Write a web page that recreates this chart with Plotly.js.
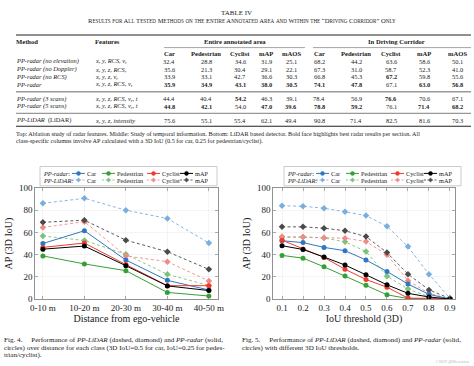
<!DOCTYPE html>
<html><head><meta charset="utf-8">
<script src="https://cdn.plot.ly/plotly-3.0.1.min.js"></script>
<style>html,body{margin:0;padding:0;background:#fff;overflow:hidden}</style>
</head><body><div id="chart" style="width:474px;height:366px"></div>
<script>
// ---------------- Table data ----------------
const tableTitle = 'TABLE IV';
const tableSubtitle = 'Results for All Tested Methods on the Entire Annotated Area and Within the “Driving Corridor” Only';
const groupHeaders = ['Entire annotated area', 'In Driving Corridor'];
const metricHeaders = ['Car', 'Pedestrian', 'Cyclist', 'mAP', 'mAOS'];
const methodNames = [
  '<i>PP-radar (no elevation)</i>',
  '<i>PP-radar (no Doppler)</i>',
  '<i>PP-radar (no RCS)</i>',
  '<i>PP-radar</i>',
  '<i>PP-radar (3 scans)</i>',
  '<i>PP-radar (5 scans)</i>',
  '<i>PP-LiDAR</i>&nbsp; (LiDAR)'
];
const featureSets = [
  '<i>x, y, RCS, v<sub>r</sub></i>',
  '<i>x, y, z, RCS,</i>',
  '<i>x, y, z, v<sub>r</sub></i>',
  '<i>x, y, z, RCS, v<sub>r</sub></i>',
  '<i>x, y, z, RCS, v<sub>r</sub>, t</i>',
  '<i>x, y, z, RCS, v<sub>r</sub>, t</i>',
  '<i>x, y, z, intensity</i>'
];
const entireArea = [
  [32.4, 28.8, 34.6, 31.9, 25.1],
  [35.6, 21.3, 30.4, 29.1, 22.1],
  [33.9, 33.1, 42.7, 36.6, 30.3],
  [35.9, 34.9, 43.1, 38.0, 30.5],
  [44.4, 40.4, 54.2, 46.3, 39.1],
  [44.8, 42.1, 54.0, 47.0, 39.6],
  [75.6, 55.1, 55.4, 62.1, 49.4]
];
const drivingCorridor = [
  [68.2, 44.2, 63.6, 58.6, 50.1],
  [67.3, 31.0, 58.7, 52.3, 41.0],
  [66.8, 45.3, 67.2, 59.8, 55.6],
  [74.1, 47.8, 67.1, 63.0, 56.8],
  [78.4, 56.9, 76.6, 70.6, 67.1],
  [78.8, 59.2, 76.1, 71.4, 68.2],
  [90.8, 71.4, 82.5, 81.6, 70.3]
];
const entireBest = [
  [0,0,0,0,0],[0,0,0,0,0],[0,0,0,0,0],[1,1,1,1,1],
  [0,0,1,0,0],[1,1,0,1,1],[0,0,0,0,0]
];
const corridorBest = [
  [0,0,0,0,0],[0,0,0,0,0],[0,0,1,0,0],[1,1,0,1,1],
  [0,0,1,0,0],[1,1,0,1,1],[0,0,0,0,0]
];
const tableNote = [
  'Top: Ablation study of radar features. Middle: Study of temporal information. Bottom: LiDAR based detector. Bold face highlights best radar results per section. All',
  'class-specific columns involve AP calculated with a 3D IoU (0.5 for car, 0.25 for pedestrian/cyclist).'
];

// ---------------- Chart data ----------------
const classNames = ['Car', 'Pedestrian', 'Cyclist', 'mAP'];
const distanceBins = ['0-10 m', '10-20 m', '20-30 m', '30-40 m', '40-50 m'];
const radarDistCar = [50.0, 61.5, 35.1, 16.8, 8.1];
const radarDistPed = [38.8, 31.6, 25.5, 5.9, 2.7];
const radarDistCyc = [46.5, 50.4, 31.0, 12.0, 12.0];
const radarDistMap = [44.9, 47.7, 30.0, 11.8, 7.6];
const lidarDistCar = [86.2, 90.7, 80.0, 72.5, 50.5];
const lidarDistPed = [56.8, 52.7, 40.3, 22.2, 12.2];
const lidarDistCyc = [64.4, 69.7, 38.8, 33.6, 16.3];
const lidarDistMap = [69.1, 71.0, 53.0, 42.6, 26.7];

const iouThresholds = [0.1, 0.2, 0.3, 0.4, 0.5, 0.6, 0.7, 0.8, 0.9];
const radarIouCar = [52.5, 50.8, 46.5, 43.5, 35.2, 24.8, 13.5, 4.2, 0.0];
const radarIouPed = [39.3, 36.8, 29.0, 20.7, 12.5, 3.8, 0.4, 0.0, 0.0];
const radarIouCyc = [53.0, 45.0, 37.5, 26.8, 17.6, 10.6, 0.8, 0.6, 0.0];
const radarIouMap = [48.0, 44.6, 37.8, 30.6, 21.8, 12.8, 5.1, 1.8, 0.0];
const lidarIouCar = [84.0, 83.5, 81.8, 78.6, 75.2, 65.5, 47.2, 22.3, 0.6];
const lidarIouPed = [55.5, 55.8, 55.0, 51.5, 42.8, 20.6, 9.0, 2.0, 0.0];
const lidarIouCyc = [56.2, 55.8, 55.2, 54.8, 51.8, 39.8, 16.5, 5.0, 0.3];
const lidarIouMap = [65.0, 65.0, 63.8, 61.5, 56.2, 41.8, 22.4, 8.2, 0.5];

const fig4Caption = [
  'Fig. 4.&nbsp;&nbsp;&nbsp;&nbsp;&nbsp;Performance of <i>PP-LiDAR</i> (dashed, diamond) and <i>PP-radar</i> (solid,',
  'circles) over distance for each class (3D IoU=0.5 for car, IoU=0.25 for pedes-',
  'trian/cyclist).'
];
const fig5Caption = [
  'Fig. 5.&nbsp;&nbsp;&nbsp;&nbsp;&nbsp;Performance of <i>PP-LiDAR</i> (dashed, diamond) and <i>PP-radar</i> (solid,',
  'circles) with different 3D IoU thresholds.'
];
const watermark = 'CSDN @Mercision';

// ---------------- Styles ----------------
const W = 474, H = 366;
const px = x => x / W, py = y => 1 - y / H;
const SERIF = 'Liberation Serif, Times New Roman, serif';
const INK = '#222';
const radarColors = ['#2f78c0', '#35a035', '#f03a30', '#000000'];
const lidarColors = ['#78aee0', '#79c479', '#f28b86', '#4a4a4a'];

const annotations = [];
const shapes = [];
function txt(x, y, text, size, anchor, color) {
  annotations.push({
    xref: 'paper', yref: 'paper', x: px(x), y: py(y), text: text,
    showarrow: false, xanchor: anchor || 'left', yanchor: 'middle',
    borderpad: 0, borderwidth: 0,
    font: {family: SERIF, size: size, color: color || INK}
  });
}
function hline(x0, x1, y, w, c) {
  shapes.push({type: 'line', xref: 'paper', yref: 'paper',
    x0: px(x0), x1: px(x1), y0: py(y), y1: py(y), line: {color: c, width: w}});
}
function smallCaps(s, small) {
  let out = '';
  for (const ch of s) {
    if (ch >= 'a' && ch <= 'z') out += '<span style="font-size:' + small + 'px">' + ch.toUpperCase() + '</span>';
    else out += ch;
  }
  return out;
}

// ---------------- Table ----------------
txt(236, 12.7, tableTitle, 7, 'center');
txt(242, 20.8, smallCaps(tableSubtitle, 5.1), 6.6, 'center');
hline(16, 471, 35, 1.1, '#222');
txt(16, 41.8, '<b>Method</b>', 6.6, 'left');
txt(95, 41.8, '<b>Features</b>', 6.6, 'left');
txt(235, 41.8, '<b>' + groupHeaders[0] + '</b>', 6.6, 'center');
txt(396, 41.8, '<b>' + groupHeaders[1] + '</b>', 6.6, 'center');
hline(164, 305, 47.6, 0.6, '#666');
hline(313, 471, 47.6, 0.6, '#666');
const colL = [169, 206, 240, 266, 291];
const colR = [319, 356, 391, 424, 457];
metricHeaders.forEach((m, j) => {
  txt(colL[j], 53.6, '<b>' + m + '</b>', 6.6, 'center');
  txt(colR[j], 53.6, '<b>' + m + '</b>', 6.6, 'center');
});
const rowY = [61.4, 69.0, 76.6, 84.2, 98.8, 106.5, 120.3];
methodNames.forEach((m, i) => {
  txt(16, rowY[i], m, 6.4, 'left');
  txt(95, rowY[i], featureSets[i], 6.4, 'left');
  for (let j = 0; j < 5; j++) {
    const a = entireArea[i][j].toFixed(1), b = drivingCorridor[i][j].toFixed(1);
    txt(colL[j], rowY[i], entireBest[i][j] ? '<b>' + a + '</b>' : a, 6.4, 'center');
    txt(colR[j], rowY[i], corridorBest[i][j] ? '<b>' + b + '</b>' : b, 6.4, 'center');
  }
});
hline(16, 471, 91.7, 1.4, '#999');
hline(16, 471, 113.4, 1.4, '#999');
hline(16, 471, 126.2, 1.1, '#222');
txt(16, 134.2, tableNote[0], 6.15, 'left');
txt(16, 141.0, tableNote[1], 6.15, 'left');

// ---------------- Captions ----------------
fig4Caption.forEach((t, i) => txt(3.5, [340.2, 347.6, 355.4][i], t, 7.1, 'left'));
fig5Caption.forEach((t, i) => txt(242, [340.2, 348.0][i], t, 7.1, 'left'));
txt(470, 361.5, watermark, 4.2, 'right', '#bbb');

// ---------------- Legends (drawn as keys) ----------------
function legend(dx) {
  shapes.push({type: 'rect', xref: 'paper', yref: 'paper',
    x0: px(40 + dx), x1: px(217 + dx), y0: py(166.5), y1: py(185.8),
    line: {color: '#b5b5b5', width: 0.7}, fillcolor: 'rgba(255,255,255,0.95)'});
  const rows = [173.4, 180.0];
  const titles = ['<i>PP-radar</i>:', '<i>PP-LiDAR</i>:'];
  const sx = [72, 102, 147, 180];
  rows.forEach((y, r) => {
    txt(43 + dx, y, titles[r], 6.3, 'left');
    classNames.forEach((c, k) => {
      const x0 = sx[k] + dx, col = r === 0 ? radarColors[k] : lidarColors[k];
      shapes.push({type: 'line', xref: 'paper', yref: 'paper',
        x0: px(x0), x1: px(x0 + 13), y0: py(y), y1: py(y),
        line: {color: col, width: r === 0 ? 1 : 0.9, dash: r === 0 ? 'solid' : '2px,1.5px'}});
      const cx = x0 + 6.5;
      if (r === 0) {
        shapes.push({type: 'circle', xref: 'paper', yref: 'paper',
          x0: px(cx - 2), x1: px(cx + 2), y0: py(y + 2), y1: py(y - 2),
          line: {color: col, width: 0.5}, fillcolor: col});
      } else {
        shapes.push({type: 'path', xref: 'paper', yref: 'paper',
          path: 'M' + px(cx) + ',' + py(y - 2.3) + ' L' + px(cx + 1.8) + ',' + py(y) +
                ' L' + px(cx) + ',' + py(y + 2.3) + ' L' + px(cx - 1.8) + ',' + py(y) + ' Z',
          line: {color: col, width: 0.4}, fillcolor: col});
      }
      txt(x0 + 15, y, c, 6.3, 'left');
    });
  });
}
legend(0);
legend(244);

// ---------------- Traces ----------------
const distIndex = distanceBins.map((_, i) => i);
const distRadar = [radarDistCar, radarDistPed, radarDistCyc, radarDistMap];
const distLidar = [lidarDistCar, lidarDistPed, lidarDistCyc, lidarDistMap];
const iouRadar = [radarIouCar, radarIouPed, radarIouCyc, radarIouMap];
const iouLidar = [lidarIouCar, lidarIouPed, lidarIouCyc, lidarIouMap];
const traces = [];
function addSet(xs, sets, colors, lidar, xa, ya) {
  sets.forEach((ys, k) => traces.push({
    type: 'scatter', mode: 'lines+markers', x: xs, y: ys, xaxis: xa, yaxis: ya,
    name: (lidar ? 'PP-LiDAR ' : 'PP-radar ') + classNames[k], showlegend: false,
    line: {color: colors[k], width: lidar ? 0.9 : 1.0, dash: lidar ? '3px,2.5px' : 'solid'},
    marker: {color: colors[k], size: 5, symbol: lidar ? 'diamond' : 'circle', line: {width: 0}}
  }));
}
addSet(distIndex, distLidar, lidarColors, true, 'x', 'y');
addSet(distIndex, distRadar, radarColors, false, 'x', 'y');
addSet(iouThresholds, iouLidar, lidarColors, true, 'x2', 'y2');
addSet(iouThresholds, iouRadar, radarColors, false, 'x2', 'y2');

const axisCommon = {
  showline: true, mirror: 'ticks', linecolor: '#777', linewidth: 0.8,
  ticks: 'inside', ticklen: 3, tickcolor: '#777', tickwidth: 0.6,
  showgrid: true, gridcolor: '#ececec', gridwidth: 0.6, zeroline: false,
  tickfont: {family: SERIF, size: 9, color: INK}
};
const yCommon = Object.assign({}, axisCommon, {
  range: [0, 100], tickmode: 'array', tickvals: [0, 20, 40, 60, 80, 100],
  title: {text: 'AP (3D IoU)', font: {family: SERIF, size: 10, color: INK}, standoff: 4}
});
const layout = {
  width: W, height: H, margin: {l: 0, r: 0, t: 0, b: 0},
  paper_bgcolor: '#fff', plot_bgcolor: '#fff', showlegend: false,
  xaxis: Object.assign({}, axisCommon, {
    domain: [px(35), px(218)], type: 'linear', range: [-0.19, 4.22],
    tickmode: 'array', tickvals: distIndex, ticktext: distanceBins,
    title: {text: 'Distance from ego-vehicle', font: {family: SERIF, size: 10, color: INK}, standoff: 3},
    anchor: 'y'
  }),
  yaxis: Object.assign({}, yCommon, {domain: [py(299), py(188)], anchor: 'x'}),
  xaxis2: Object.assign({}, axisCommon, {
    domain: [px(273), px(455)], type: 'linear', range: [0.057, 0.924],
    tickmode: 'array', tickvals: iouThresholds,
    title: {text: 'IoU threshold (3D)', font: {family: SERIF, size: 10, color: INK}, standoff: 3},
    anchor: 'y2'
  }),
  yaxis2: Object.assign({}, yCommon, {domain: [py(299), py(188)], anchor: 'x2'}),
  annotations: annotations, shapes: shapes
};
Plotly.newPlot('chart', traces, layout, {staticPlot: true, displayModeBar: false});
</script></body></html>
